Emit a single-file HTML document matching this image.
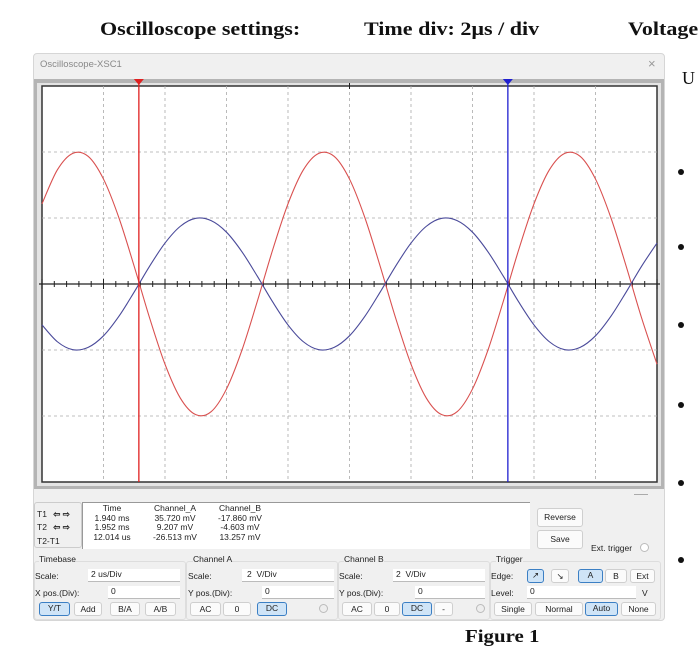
<!DOCTYPE html>
<html><head><meta charset="utf-8">
<style>
body{margin:0;width:700px;height:664px;background:#fff;position:relative;overflow:hidden;font-family:"Liberation Sans",sans-serif;}
.t{position:absolute;font-family:"Liberation Serif",serif;font-weight:bold;color:#111;white-space:nowrap;transform:scaleX(1.16);transform-origin:0 0}
.a{position:absolute;white-space:nowrap;font-size:8.5px;color:#222}
.btn{position:absolute;background:#fbfbfb;border:1px solid #cfcfcf;border-radius:3px;font-size:8.5px;color:#222;text-align:center;box-sizing:border-box}
.on{background:#cfe4f7;border:1.5px solid #3b7fc4}
.inp{position:absolute;background:#fff;border-bottom:1px solid #bbb;font-size:8.5px;color:#222;box-sizing:border-box;padding-left:3px}
.grp{position:absolute;border:1px solid #ddd;border-radius:3px}
.bul{position:absolute;width:6px;height:6px;border-radius:50%;background:#111;left:678px}
.rad{position:absolute;width:9px;height:9px;border-radius:50%;border:1px solid #bbb;background:#eee;box-sizing:border-box}
</style></head><body>
<div class="t" style="left:100px;top:19px;font-size:19px">Oscilloscope settings:</div>
<div class="t" style="left:364px;top:19px;font-size:19px">Time div: 2µs / div</div>
<div class="t" style="left:628px;top:19px;font-size:19px">Voltage</div>
<div class="t" style="left:682px;top:68px;font-size:18px;font-weight:normal;transform:none">U</div>
<div class="bul" style="top:169px"></div>
<div class="bul" style="top:244px"></div>
<div class="bul" style="top:322px"></div>
<div class="bul" style="top:402px"></div>
<div class="bul" style="top:480px"></div>
<div class="bul" style="top:557px"></div>
<div class="t" style="left:465px;top:626px;font-size:18px">Figure 1</div>

<div style="position:absolute;left:33px;top:53px;width:632px;height:568px;background:#f0f0f0;border:1px solid #d6d6d6;border-radius:4px;box-sizing:border-box"></div>
<div class="a" style="left:40px;top:59px;font-size:9.5px;color:#888">Oscilloscope-XSC1</div>
<div class="a" style="left:648px;top:56px;font-size:13px;color:#999">×</div>
<div style="position:absolute;left:34px;top:79px;width:630px;height:410px;background:#b4b4b4"></div>
<div style="position:absolute;left:37px;top:83px;width:624px;height:403px;background:#e4e4e4"></div>

<svg style="position:absolute;left:0;top:0" width="700" height="664">
<g id="g"></g>
</svg>

<div style="position:absolute;left:634px;top:494px;width:14px;height:1px;background:#aaa"></div>
<div class="grp" style="left:34px;top:502px;width:46px;height:44px;background:#f0f0f0;border-color:#ccc"></div>
<div class="a" style="left:37px;top:509px">T1 <b style="margin-left:4px">⇦ ⇨</b></div>
<div class="a" style="left:37px;top:522px">T2 <b style="margin-left:4px">⇦ ⇨</b></div>
<div class="a" style="left:37px;top:536px">T2-T1</div>
<div style="position:absolute;left:82px;top:502px;width:447px;height:46px;background:#fff;border-top:1px solid #999;border-left:1px solid #999"></div>
<div class="a" style="left:91px;top:504px;text-align:center;width:42px;line-height:9.5px">Time<br>1.940 ms<br>1.952 ms<br>12.014 us</div>
<div class="a" style="left:148px;top:504px;text-align:center;width:54px;line-height:9.5px">Channel_A<br>35.720 mV<br>9.207 mV<br>-26.513 mV</div>
<div class="a" style="left:213px;top:504px;text-align:center;width:54px;line-height:9.5px">Channel_B<br>-17.860 mV<br>-4.603 mV<br>13.257 mV</div>
<div class="btn" style="left:537px;top:508px;width:46px;height:19px;line-height:17px">Reverse</div>
<div class="btn" style="left:537px;top:530px;width:46px;height:19px;line-height:17px">Save</div>
<div class="a" style="left:591px;top:543px">Ext. trigger</div>
<div class="rad" style="left:640px;top:543px;background:#fff"></div>

<div class="grp" style="left:34px;top:561px;width:150px;height:57px"></div>
<div class="a" style="left:39px;top:554px;background:#f0f0f0">Timebase</div>
<div class="a" style="left:35px;top:571px">Scale:</div>
<div class="inp" style="left:88px;top:569px;width:92px;height:13px">2 us/Div</div>
<div class="a" style="left:35px;top:588px">X pos.(Div):</div>
<div class="inp" style="left:108px;top:586px;width:72px;height:13px">0</div>
<div class="btn on" style="left:39px;top:602px;width:31px;height:14px;line-height:11px">Y/T</div>
<div class="btn" style="left:74px;top:602px;width:28px;height:14px;line-height:12px">Add</div>
<div class="btn" style="left:110px;top:602px;width:30px;height:14px;line-height:12px">B/A</div>
<div class="btn" style="left:145px;top:602px;width:31px;height:14px;line-height:12px">A/B</div>

<div class="grp" style="left:186px;top:561px;width:150px;height:57px"></div>
<div class="a" style="left:193px;top:554px;background:#f0f0f0">Channel A</div>
<div class="a" style="left:188px;top:571px">Scale:</div>
<div class="inp" style="left:242px;top:569px;width:92px;height:13px;padding-left:5px">2 &nbsp;V/Div</div>
<div class="a" style="left:188px;top:588px">Y pos.(Div):</div>
<div class="inp" style="left:262px;top:586px;width:72px;height:13px">0</div>
<div class="btn" style="left:190px;top:602px;width:31px;height:14px;line-height:12px">AC</div>
<div class="btn" style="left:223px;top:602px;width:28px;height:14px;line-height:12px">0</div>
<div class="btn on" style="left:257px;top:602px;width:30px;height:14px;line-height:11px">DC</div>
<div class="rad" style="left:319px;top:604px"></div>

<div class="grp" style="left:338px;top:561px;width:150px;height:57px"></div>
<div class="a" style="left:344px;top:554px;background:#f0f0f0">Channel B</div>
<div class="a" style="left:339px;top:571px">Scale:</div>
<div class="inp" style="left:393px;top:569px;width:92px;height:13px">2 &nbsp;V/Div</div>
<div class="a" style="left:339px;top:588px">Y pos.(Div):</div>
<div class="inp" style="left:415px;top:586px;width:70px;height:13px">0</div>
<div class="btn" style="left:342px;top:602px;width:30px;height:14px;line-height:12px">AC</div>
<div class="btn" style="left:374px;top:602px;width:26px;height:14px;line-height:12px">0</div>
<div class="btn on" style="left:402px;top:602px;width:30px;height:14px;line-height:11px">DC</div>
<div class="btn" style="left:434px;top:602px;width:19px;height:14px;line-height:12px">-</div>
<div class="rad" style="left:476px;top:604px"></div>

<div class="grp" style="left:490px;top:561px;width:169px;height:57px"></div>
<div class="a" style="left:496px;top:554px;background:#f0f0f0">Trigger</div>
<div class="a" style="left:491px;top:571px">Edge:</div>
<div class="btn on" style="left:527px;top:569px;width:17px;height:14px;line-height:11px">↗</div>
<div class="btn" style="left:551px;top:569px;width:18px;height:14px;line-height:12px">↘</div>
<div class="btn on" style="left:578px;top:569px;width:25px;height:14px;line-height:11px">A</div>
<div class="btn" style="left:605px;top:569px;width:22px;height:14px;line-height:12px">B</div>
<div class="btn" style="left:630px;top:569px;width:25px;height:14px;line-height:12px">Ext</div>
<div class="a" style="left:491px;top:588px">Level:</div>
<div class="inp" style="left:527px;top:586px;width:109px;height:13px">0</div>
<div class="a" style="left:642px;top:588px">V</div>
<div class="btn" style="left:494px;top:602px;width:38px;height:14px;line-height:12px">Single</div>
<div class="btn" style="left:535px;top:602px;width:48px;height:14px;line-height:12px">Normal</div>
<div class="btn on" style="left:585px;top:602px;width:33px;height:14px;line-height:11px">Auto</div>
<div class="btn" style="left:621px;top:602px;width:35px;height:14px;line-height:12px">None</div>

<script>
// time in µs (0..20, step 0.5), voltages in V
const timeDivUs = 2, voltDiv = 2, tStep = 0.5;
const channelA = [2.43,3.46,3.96,3.87,3.18,2.01,0.53,-1.03,-2.43,-3.46,-3.96,-3.87,-3.18,-2.01,-0.53,1.03,
 2.43,3.46,3.96,3.87,3.18,2.01,0.53,-1.03,-2.43,-3.46,-3.96,-3.87,-3.18,-2.01,-0.53,1.03,
 2.43,3.46,3.96,3.87,3.18,2.01,0.53,-1.03,-2.43];
const channelB = [-1.24,-1.75,-1.99,-1.92,-1.57,-0.98,-0.24,0.54,1.24,1.75,1.99,1.92,1.57,0.98,0.24,-0.54,
 -1.24,-1.75,-1.99,-1.92,-1.57,-0.98,-0.24,0.54,1.24,1.75,1.99,1.92,1.57,0.98,0.24,-0.54,
 -1.24,-1.75,-1.99,-1.92,-1.57,-0.98,-0.24,0.54,1.24];
const cursorT1 = 3.15, cursorT2 = 15.15;

const L=42,T=86,W=615,H=396,NX=10,NY=6;
const xS=t=>L+t/(timeDivUs*NX)*W;
const yS=v=>T+H/2-v/(voltDiv*NY/2)*(H/2);
const NS='http://www.w3.org/2000/svg', g=document.getElementById('g');
function mk(tag,at){const e=document.createElementNS(NS,tag);for(const k in at)e.setAttribute(k,at[k]);g.appendChild(e);return e;}
let bg=mk('rect',{x:L,y:T,width:W,height:H,fill:'#fff',stroke:'#333','stroke-width':1.5});


for(let i=1;i<NX;i++){let x=L+i*W/NX;let e=mk('line',{x1:x,x2:x,y1:T,y2:T+H,stroke:'#aaa','stroke-dasharray':'3,3','stroke-width':0.8});

}
for(let j=1;j<NY;j++){if(j===NY/2)continue;let y=T+j*H/NY;let e=mk('line',{x1:L,x2:L+W,y1:y,y2:y,stroke:'#aaa','stroke-dasharray':'3,3','stroke-width':0.8});

}
const yc=T+H/2;
let ax=mk('line',{x1:L-3,x2:L+W+3,y1:yc,y2:yc,stroke:'#222','stroke-width':1.3});


for(let k=0;k<=NX*5;k++){let x=L+k*W/(NX*5);let h=k%5===0?5:3;let e=mk('line',{x1:x,x2:x,y1:yc-h,y2:yc+h,stroke:'#222','stroke-width':1});

}
let tt=mk('line',{x1:L+W/2,x2:L+W/2,y1:T-3,y2:T+3,stroke:'#222','stroke-width':1});


function path(arr,col,name){
 let p=arr.map((v,i)=>[xS(i*tStep),yS(v)]);let s='M'+p[0];
 for(let i=0;i<p.length-1;i++){let p0=p[i-1]||p[i],p1=p[i],p2=p[i+1],p3=p[i+2]||p2;
  s+=' C'+(p1[0]+(p2[0]-p0[0])/6)+','+(p1[1]+(p2[1]-p0[1])/6)+' '+(p2[0]-(p3[0]-p1[0])/6)+','+(p2[1]-(p3[1]-p1[1])/6)+' '+p2[0]+','+p2[1];}
 let e=mk('path',{d:s,fill:'none',stroke:col,'stroke-width':1.1});
 
 }
path(channelA,'#d9504f','channel-a-trace');
path(channelB,'#4a4a9a','channel-b-trace');
function cur(t,col,name){let x=xS(t);let e=mk('line',{x1:x,x2:x,y1:T-6,y2:T+H,stroke:col,'stroke-width':1.3});
 
 
 let m=mk('path',{d:`M${x-5},${T-7} L${x+5},${T-7} L${x},${T-1} Z`,fill:col});
 
 }
cur(cursorT1,'#e02020','cursor-t1');
cur(cursorT2,'#2020d0','cursor-t2');
</script>
</body></html>
